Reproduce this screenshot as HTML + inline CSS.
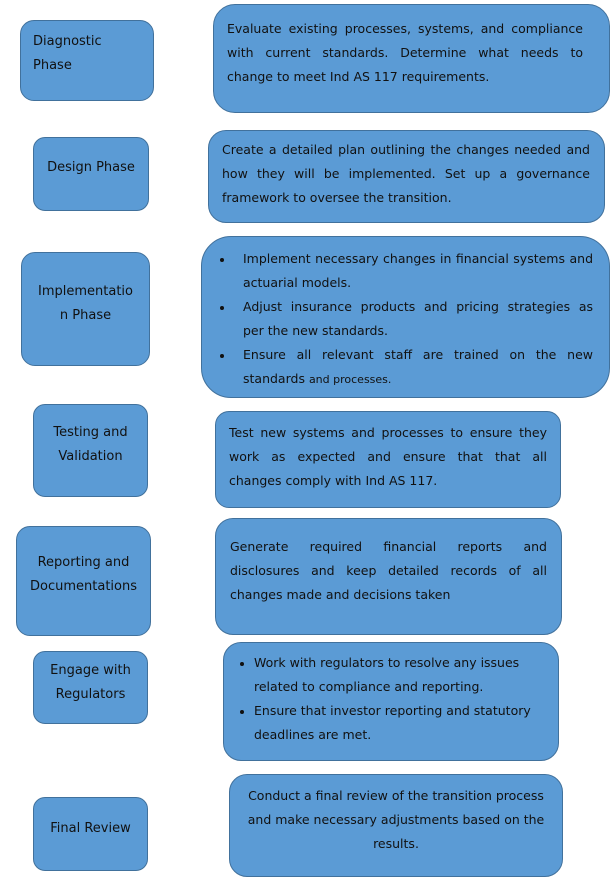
<!DOCTYPE html>
<html><head><style>
body{margin:0;width:610px;height:896px;background:#fff;position:relative;font-family:"DejaVu Sans","Liberation Sans",sans-serif;font-size:12.5px;color:#111;overflow:hidden}
.b{position:absolute;background:#5b9bd5;border:1px solid #41719c;box-sizing:border-box}
.t{position:absolute;line-height:24px;white-space:nowrap}
.lf{font-size:13px}
.j{position:absolute;line-height:24px}
.j div{text-align:justify;text-align-last:justify;white-space:nowrap}
.j div.l{text-align-last:left}
.c{text-align:center}
.bu{position:absolute;width:4px;height:4px;border-radius:50%;background:#111}
</style></head><body>
<div class="b" style="left:20px;top:20px;width:134px;height:81px;border-radius:14px"></div>
<div class="t lf" style="left:33px;top:30px">Diagnostic<br>Phase</div>
<div class="b" style="left:33px;top:137px;width:116px;height:74px;border-radius:12px"></div>
<div class="t c lf" style="left:33px;top:156px;width:116px">Design Phase</div>
<div class="b" style="left:21px;top:252px;width:129px;height:114px;border-radius:14px"></div>
<div class="t c lf" style="left:21px;top:280px;width:129px">Implementatio<br>n Phase</div>
<div class="b" style="left:33px;top:404px;width:115px;height:93px;border-radius:12px"></div>
<div class="t c lf" style="left:33px;top:421px;width:115px">Testing and<br>Validation</div>
<div class="b" style="left:16px;top:526px;width:135px;height:110px;border-radius:14px"></div>
<div class="t c lf" style="left:16px;top:551px;width:135px">Reporting and<br>Documentations</div>
<div class="b" style="left:33px;top:651px;width:115px;height:73px;border-radius:12px"></div>
<div class="t c lf" style="left:33px;top:659px;width:115px">Engage with<br>Regulators</div>
<div class="b" style="left:33px;top:797px;width:115px;height:74px;border-radius:12px"></div>
<div class="t c lf" style="left:33px;top:817px;width:115px">Final Review</div>

<div class="b" style="left:213px;top:4px;width:397px;height:109px;border-radius:22px"></div>
<div class="j" style="left:227px;top:17px;width:356px"><div>Evaluate existing processes, systems, and compliance</div><div>with current standards. Determine what needs to</div><div class="l">change to meet Ind AS 117 requirements.</div></div>
<div class="b" style="left:208px;top:130px;width:397px;height:93px;border-radius:18px"></div>
<div class="j" style="left:222px;top:138px;width:368px"><div>Create a detailed plan outlining the changes needed and</div><div>how they will be implemented. Set up a governance</div><div class="l">framework to oversee the transition.</div></div>
<div class="b" style="left:201px;top:236px;width:409px;height:162px;border-radius:30px"></div>
<div class="bu" style="left:220px;top:258px"></div><div class="bu" style="left:220px;top:306px"></div><div class="bu" style="left:220px;top:354px"></div>
<div class="j" style="left:243px;top:247px;width:350px"><div>Implement necessary changes in financial systems and</div><div class="l">actuarial models.</div><div>Adjust insurance products and pricing strategies as</div><div class="l">per the new standards.</div><div>Ensure all relevant staff are trained on the new</div><div class="l">standards <span style="font-size:11px">and processes.</span></div></div>
<div class="b" style="left:215px;top:411px;width:346px;height:97px;border-radius:14px"></div>
<div class="j" style="left:229px;top:421px;width:318px"><div>Test new systems and processes to ensure they</div><div>work as expected and ensure that that all</div><div class="l">changes comply with Ind AS 117.</div></div>
<div class="b" style="left:215px;top:518px;width:347px;height:117px;border-radius:18px"></div>
<div class="j" style="left:230px;top:535px;width:317px"><div>Generate required financial reports and</div><div>disclosures and keep detailed records of all</div><div class="l">changes made and decisions taken</div></div>
<div class="b" style="left:223px;top:642px;width:336px;height:119px;border-radius:18px"></div>
<div class="bu" style="left:240px;top:662px"></div><div class="bu" style="left:240px;top:710px"></div>
<div class="j" style="left:254px;top:651px;width:292px"><div class="l">Work with regulators to resolve any issues</div><div class="l">related to compliance and reporting.</div><div class="l">Ensure that investor reporting and statutory</div><div class="l">deadlines are met.</div></div>
<div class="b" style="left:229px;top:774px;width:334px;height:103px;border-radius:18px"></div>
<div class="t c" style="left:229px;top:784px;width:334px">Conduct a final review of the transition process<br>and make necessary adjustments based on the<br>results.</div>
</body></html>
